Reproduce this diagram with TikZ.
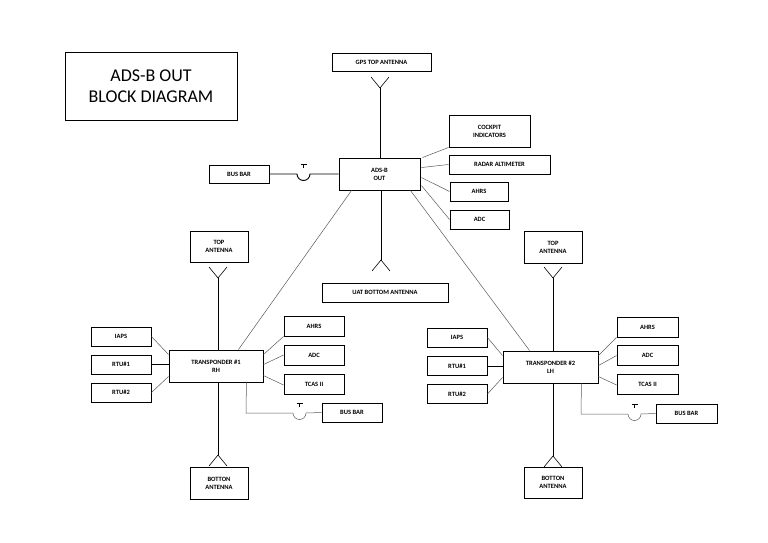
\documentclass[tikz,border=0pt]{standalone}
\usepackage{fontspec}
\setmainfont{Carlito}
\usetikzlibrary{calc}
\begin{document}
\begin{tikzpicture}[x=1pt,y=-1pt,
  box/.style={draw,line width=0.9pt,font=\bfseries\fontsize{6.5}{8}\selectfont,align=center,inner sep=0pt},
  wire/.style={line width=0.9pt},
  thin/.style={line width=0.5pt,gray!70!black},
  ant/.style={line width=0.6pt}]
\useasboundingbox (0,0) rectangle (768,543);
\node[draw,line width=0.9pt,minimum width=172,minimum height=68,align=center,font=\fontsize{18}{21}\selectfont] (title) at (151,86) {ADS-B OUT\\BLOCK DIAGRAM};
% ADS-B centre
\node[box,minimum width=99,minimum height=18] (gps) at (381.5,62) {GPS TOP ANTENNA};
\node[box,minimum width=81,minimum height=32] (ads) at (379.5,174) {ADS-B\\OUT};
\node[box,minimum width=81,minimum height=32] (cock) at (489.5,131) {COCKPIT\\INDICATORS};
\node[box,minimum width=101,minimum height=19] (radar) at (499.5,164.5) {RADAR ALTIMETER};
\node[box,minimum width=58,minimum height=19] (ahrs0) at (479,191.5) {AHRS};
\node[box,minimum width=59,minimum height=19] (adc0) at (479.5,219.5) {ADC};
\node[box,minimum width=60,minimum height=18] (bus0) at (239,174) {BUS BAR};
\node[box,minimum width=126,minimum height=19] (uat) at (385,292.5) {UAT BOTTOM ANTENNA};
% transponder 1
\node[box,minimum width=94,minimum height=32] (t1) at (216,366) {TRANSPONDER \#1\\RH};
\node[box,minimum width=58,minimum height=31] (top1) at (219,246.5) {TOP\\ANTENNA};
\node[box,minimum width=58,minimum height=32] (bot1) at (219,483) {BOTTON\\ANTENNA};
\node[box,minimum width=60,minimum height=19] (iaps1) at (121,336.5) {IAPS};
\node[box,minimum width=60,minimum height=19] (rtua1) at (121,364.5) {RTU\#1};
\node[box,minimum width=60,minimum height=19] (rtub1) at (121,392.5) {RTU\#2};
\node[box,minimum width=60,minimum height=20] (ahrs1) at (314,326) {AHRS};
\node[box,minimum width=60,minimum height=20] (adc1) at (314,355) {ADC};
\node[box,minimum width=60,minimum height=20] (tcas1) at (314,384) {TCAS II};
\node[box,minimum width=60,minimum height=19] (bus1) at (352,412.5) {BUS BAR};
% transponder 2
\node[box,minimum width=95,minimum height=32] (t2) at (550.5,367) {TRANSPONDER \#2\\LH};
\node[box,minimum width=58,minimum height=32] (top2) at (553,247) {TOP\\ANTENNA};
\node[box,minimum width=58,minimum height=31] (bot2) at (553,482.5) {BOTTON\\ANTENNA};
\node[box,minimum width=60,minimum height=19] (iaps2) at (457,337.5) {IAPS};
\node[box,minimum width=60,minimum height=19] (rtua2) at (457,366) {RTU\#1};
\node[box,minimum width=60,minimum height=19] (rtub2) at (457,394) {RTU\#2};
\node[box,minimum width=61,minimum height=20] (ahrs2) at (647.5,327) {AHRS};
\node[box,minimum width=61,minimum height=20] (adc2) at (647.5,355.5) {ADC};
\node[box,minimum width=61,minimum height=20] (tcas2) at (647.5,384) {TCAS II};
\node[box,minimum width=61,minimum height=19] (bus2) at (686.5,413.5) {BUS BAR};
% antenna vertices
\coordinate (ag) at (380,88);
\coordinate (au) at (381,260);
\coordinate (at1) at (218,278);
\coordinate (ab1) at (218,455);
\coordinate (at2) at (553,278);
\coordinate (ab2) at (553,456);
\foreach \a in {ag,at1,at2}{\draw[ant] ($(\a)+(-9,-11)$) -- (\a) -- ($(\a)+(9,-11)$);}
\foreach \a in {au,ab1,ab2}{\draw[ant] ($(\a)+(-9,11)$) -- (\a) -- ($(\a)+(9,11)$);}
\draw[wire] (ag) -- (ads.north -| ag);
\draw[wire] (ads.south -| au) -- (au);
\draw[wire] (at1) -- (t1.north -| at1);
\draw[wire] (t1.south -| ab1) -- (ab1);
\draw[wire] (at2) -- (t2.north -| at2);
\draw[wire] (t2.south -| ab2) -- (ab2);
% ADS-B connectors
\draw[thin] ($(ads.north east)+(2,0)$) -- (cock.south west);
\draw[thin] ($(ads.north east)+(1,10)$) -- ($(radar.west)+(0,0)$);
\draw[thin] ($(ads.north east)+(1,20)$) -- (ahrs0.west);
\draw[thin] ($(ads.north east)+(1,28)$) -- (adc0.west);
\draw[thin] ($(ads.south west)+(13,0)$) -- ($(t1.north east)+(-25,0)$);
\draw[thin] ($(ads.south east)+(-10,0)$) -- ($(t2.north west)+(27,0)$);
% switches
\draw[wire] (bus0.east) -- (297,174) arc[start angle=180,end angle=0,radius=6.5] -- (ads.west |- 0,174);
\draw[line width=0.6pt] (303.5,167.5) -- (303.5,164) (300.5,164) -- (306.5,164);
\draw[thin] ($(t1.south east)+(-17,0)$) -- (246,413) -- (293,413) arc[start angle=180,end angle=0,radius=6.5] -- (bus1.west);
\draw[line width=0.6pt] (299.5,406.5) -- (299.5,403) (296.5,403) -- (302.5,403);
\draw[thin] ($(t2.south east)+(-17,0)$) -- (581,414) -- (628,414) arc[start angle=180,end angle=0,radius=6.5] -- (bus2.west);
\draw[line width=0.6pt] (634.5,407.5) -- (634.5,404) (631.5,404) -- (637.5,404);
% transponder 1 connectors
\draw[thin] (iaps1.east) -- ($(t1.north west)+(0,5)$);
\draw[wire] (rtua1.east) -- (t1.west |- rtua1.east);
\draw[thin] (rtub1.east) -- ($(t1.south west)+(0,-6)$);
\draw[thin] ($(t1.north east)+(0,5)$) -- (ahrs1.south west);
\draw[thin] ($(t1.north east)+(0,15)$) -- (adc1.west);
\draw[thin] ($(t1.north east)+(0,26)$) -- ($(tcas1.west)+(0,1)$);
% transponder 2 connectors
\draw[thin] (iaps2.east) -- ($(t2.north west)+(0,5)$);
\draw[wire] (rtua2.east) -- (t2.west |- rtua2.east);
\draw[thin] (rtub2.east) -- ($(t2.south west)+(0,-6)$);
\draw[thin] ($(t2.north east)+(0,5)$) -- (ahrs2.south west);
\draw[thin] ($(t2.north east)+(0,15)$) -- (adc2.west);
\draw[thin] ($(t2.north east)+(0,26)$) -- ($(tcas2.west)+(0,1)$);
\end{tikzpicture}
\end{document}
